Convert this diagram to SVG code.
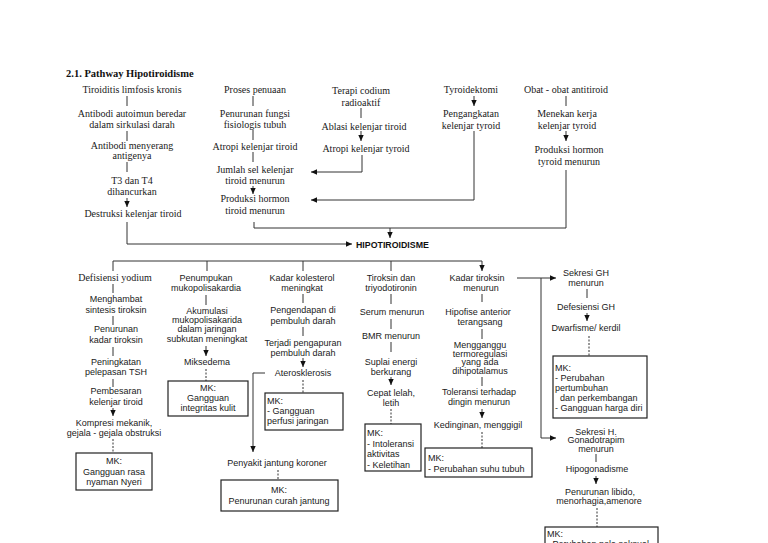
<svg xmlns="http://www.w3.org/2000/svg" width="768" height="543" viewBox="0 0 768 543">
<defs>
<marker id="a" viewBox="0 0 10 10" refX="10" refY="5" markerWidth="6" markerHeight="6" markerUnits="userSpaceOnUse" orient="auto"><path d="M0,0.5 L10,5 L0,9.5z" fill="#111"/></marker>
<style>
.s{font-family:"Liberation Serif","Times New Roman",serif;font-size:10px;fill:#1a1a1a;text-anchor:middle}
.n{font-family:"Liberation Sans",Arial,sans-serif;font-size:9px;fill:#1a1a1a;text-anchor:middle}
.l{text-anchor:start}
.t{font-family:"Liberation Serif","Times New Roman",serif;font-size:10.5px;font-weight:bold;fill:#111}
.h{font-family:"Liberation Sans",Arial,sans-serif;font-size:8.8px;font-weight:bold;fill:#111}
.c{stroke:#333;stroke-width:1;fill:none}
.ar{marker-end:url(#a)}
.d{stroke:#333;stroke-width:1;stroke-dasharray:2 1.5;fill:none}
.box{fill:#fff;stroke:#222;stroke-width:1.2}
</style>
</defs>
<rect width="768" height="543" fill="#fff"/>
<text class="t" x="66" y="77">2.1. Pathway Hipotiroidisme</text>

<g id="connectors">
<path class="c ar" d="M127,96V106M127,131V141M127,162V172M127,198V207"/>
<path class="c ar" d="M253,96V106M253,130V140M253,152V162M253,186V194"/>
<path class="c ar" d="M361,108V118M361,131V141"/>
<path class="c ar" d="M362,155V172H311"/>
<path class="c ar" d="M474,96V106"/>
<path class="c ar" d="M474,131V200H311"/>
<path class="c ar" d="M566,96V106M566,131V141"/>
<path class="c" d="M254,222V228H566V170"/>
<path class="c ar" d="M390,228V238"/>
<path class="c ar" d="M127,222V244H352"/>
<path class="c" d="M113,261H482"/>
<path class="c ar" d="M113,261V271M207,261V271M303,261V271M391,261V271M482,261V271"/>
<path class="c ar" d="M113,284V293M113,316V325M113,347V356M113,379V387M113,408V416"/>
<path class="d" d="M113,439V453"/>
<path class="c ar" d="M206,295V305M206,346V356"/>
<path class="d" d="M206,369V381"/>
<path class="c ar" d="M303,294V303M303,327V336M303,358V367"/>
<path class="d" d="M303,380V393"/>
<path class="c ar" d="M265,373H253V452"/>
<path class="d" d="M278,470V480"/>
<path class="c ar" d="M391,294V304M391,319V329M391,342V352M391,377V385"/>
<path class="d" d="M391,409V424"/>
<path class="c ar" d="M482,294V302M482,329V339M482,377V386M482,409V418"/>
<path class="d" d="M482,432V448"/>
<path class="c ar" d="M517,278H556"/>
<path class="c ar" d="M541,278V438H556"/>
<path class="c ar" d="M587,289V298M587,313V321"/>
<path class="d" d="M589,336V356"/>
<path class="c ar" d="M596,454V462M596,476V484"/>
<path class="d" d="M597,508V527"/>
</g>

<g id="top1">
<text class="s" x="132" y="92.5">Tiroiditis limfosis kronis</text>
<text class="s" x="132" y="116.5">Antibodi autoimun beredar</text>
<text class="s" x="132" y="127.5">dalam sirkulasi darah</text>
<text class="s" x="132" y="148.5">Antibodi menyerang</text>
<text class="s" x="132" y="159">antigenya</text>
<text class="s" x="132" y="183.5">T3 dan T4</text>
<text class="s" x="132" y="194.5">dihancurkan</text>
<text class="s" x="133" y="216.5">Destruksi kelenjar tiroid</text>
</g>
<g id="top2">
<text class="s" x="255" y="92.5">Proses penuaan</text>
<text class="s" x="255" y="116.5">Penurunan fungsi</text>
<text class="s" x="255" y="127.5">fisiologis tubuh</text>
<text class="s" x="255" y="149.5">Atropi kelenjar tiroid</text>
<text class="s" x="255" y="172.5">Jumlah sel kelenjar</text>
<text class="s" x="255" y="183.5">tiroid menurun</text>
<text class="s" x="255" y="201.5">Produksi hormon</text>
<text class="s" x="255" y="213.5">tiroid menurun</text>
</g>
<g id="top3">
<text class="s" x="361" y="93.5">Terapi codium</text>
<text class="s" x="361" y="105.5">radioaktif</text>
<text class="s" x="364" y="129.5">Ablasi kelenjar tiroid</text>
<text class="s" x="366" y="151.5">Atropi kelenjar tyroid</text>
</g>
<g id="top4">
<text class="s" x="471" y="92.5">Tyroidektomi</text>
<text class="s" x="471" y="116.5">Pengangkatan</text>
<text class="s" x="471" y="128.5">kelenjar tyroid</text>
</g>
<g id="top5">
<text class="s" x="566" y="92.5">Obat - obat antitiroid</text>
<text class="s" x="567" y="116.5">Menekan kerja</text>
<text class="s" x="567" y="128.5">kelenjar tyroid</text>
<text class="s" x="569" y="152.5">Produksi hormon</text>
<text class="s" x="569" y="164.5">tyroid menurun</text>
</g>
<g id="hipotiroidisme">
<text class="h" x="356" y="248">HIPOTIROIDISME</text>
</g>

<g id="colA">
<text class="s" x="115" y="280.5">Defisiensi yodium</text>
<text class="n" x="116" y="302">Menghambat</text>
<text class="n" x="116" y="313">sintesis tiroksin</text>
<text class="n" x="116" y="332">Penurunan</text>
<text class="n" x="116" y="343">kadar tiroksin</text>
<text class="n" x="116" y="365">Peningkatan</text>
<text class="n" x="116" y="375">pelepasan TSH</text>
<text class="n" x="116" y="394">Pembesaran</text>
<text class="n" x="116" y="405">kelenjar tiroid</text>
<text class="n" x="114" y="426">Kompresi mekanik,</text>
<text class="n" x="114" y="436">gejala - gejala obstruksi</text>
</g>
<g id="mkA">
<rect class="box" x="76" y="453" width="76" height="37"/>
<text class="n" x="114" y="463.5">MK:</text>
<text class="n" x="114" y="474.5">Gangguan rasa</text>
<text class="n" x="114" y="484.5">nyaman Nyeri</text>
</g>

<g id="colB">
<text class="n" x="206" y="281">Penumpukan</text>
<text class="n" x="206" y="291">mukopolisakardia</text>
<text class="n" x="207" y="314">Akumulasi</text>
<text class="n" x="207" y="323">mukopolisakarida</text>
<text class="n" x="207" y="332">dalam jaringan</text>
<text class="n" x="207" y="342">subkutan meningkat</text>
<text class="n" x="207" y="365">Miksedema</text>
</g>
<g id="mkB">
<rect class="box" x="168" y="381" width="80" height="35"/>
<text class="n" x="208" y="391">MK:</text>
<text class="n" x="208" y="400.5">Gangguan</text>
<text class="n" x="208" y="410.5">integritas kulit</text>
</g>

<g id="colC">
<text class="n" x="302" y="280.5">Kadar kolesterol</text>
<text class="n" x="302" y="291">meningkat</text>
<text class="n" x="303" y="313">Pengendapan di</text>
<text class="n" x="303" y="324">pembuluh darah</text>
<text class="n" x="303" y="346">Terjadi pengapuran</text>
<text class="n" x="303" y="356">pembuluh darah</text>
<text class="n" x="303" y="376">Aterosklerosis</text>
</g>
<g id="mkC">
<rect class="box" x="265" y="393" width="78" height="37"/>
<text class="n l" x="267" y="404">MK:</text>
<text class="n l" x="267" y="414">- Gangguan</text>
<text class="n l" x="267" y="424">perfusi jaringan</text>
</g>
<g id="pjk">
<text class="n" x="277" y="466">Penyakit jantung koroner</text>
</g>
<g id="mkPJK">
<rect class="box" x="221" y="480" width="117" height="31"/>
<text class="n" x="279" y="492.5">MK:</text>
<text class="n" x="279" y="503.5">Penurunan curah jantung</text>
</g>

<g id="colD">
<text class="n" x="391" y="281">Tiroksin dan</text>
<text class="n" x="391" y="291">triyodotironin</text>
<text class="n" x="392" y="315">Serum menurun</text>
<text class="n" x="391" y="339">BMR menurun</text>
<text class="n" x="391" y="365">Suplai energi</text>
<text class="n" x="391" y="375">berkurang</text>
<text class="n" x="391" y="396">Cepat lelah,</text>
<text class="n" x="391" y="406">letih</text>
</g>
<g id="mkD">
<rect class="box" x="365" y="424" width="56" height="47"/>
<text class="n l" x="367" y="436">MK:</text>
<text class="n l" x="367" y="447">- Intoleransi</text>
<text class="n l" x="367" y="457">aktivitas</text>
<text class="n l" x="367" y="467.5">- Keletihan</text>
</g>

<g id="colE">
<text class="n" x="477" y="280.5">Kadar tiroksin</text>
<text class="n" x="481" y="291">menurun</text>
<text class="n" x="478" y="315">Hipofise anterior</text>
<text class="n" x="480" y="325">terangsang</text>
<text class="n" x="480" y="347.5">Mengganggu</text>
<text class="n" x="480" y="356.5">termoregulasi</text>
<text class="n" x="480" y="365">yang ada</text>
<text class="n" x="480" y="374">dihipotalamus</text>
<text class="n" x="479" y="395">Toleransi terhadap</text>
<text class="n" x="479" y="405">dingin menurun</text>
<text class="n" x="478" y="428">Kedinginan, menggigil</text>
</g>
<g id="mkE">
<rect class="box" x="425" y="448" width="107" height="29"/>
<text class="n l" x="428" y="461">MK:</text>
<text class="n l" x="428" y="472">- Perubahan suhu tubuh</text>
</g>

<g id="colF">
<text class="n" x="586" y="276">Sekresi GH</text>
<text class="n" x="586" y="286">menurun</text>
<text class="n" x="586" y="310">Defesiensi GH</text>
<text class="n" x="586" y="331">Dwarfisme/ kerdil</text>
</g>
<g id="mkF">
<rect class="box" x="553" y="356" width="94" height="62"/>
<text class="n l" x="555" y="371">MK:</text>
<text class="n l" x="555" y="381">- Perubahan</text>
<text class="n l" x="555" y="391">pertumbuhan</text>
<text class="n l" x="560" y="401">dan perkembangan</text>
<text class="n l" x="555" y="411">- Gangguan harga diri</text>
</g>

<g id="colG">
<text class="n" x="596" y="434.5">Sekresi H.</text>
<text class="n" x="596" y="443">Gonadotrapim</text>
<text class="n" x="596" y="451.5">menurun</text>
<text class="n" x="597" y="472">Hipogonadisme</text>
<text class="n" x="600" y="495">Penurunan libido,</text>
<text class="n" x="599" y="504">menorhagia,amenore</text>
</g>
<g id="mkG">
<rect class="box" x="545" y="527" width="113" height="30"/>
<text class="n l" x="547" y="537">MK:</text>
<text class="n l" x="547" y="547">- Perubahan pola seksual</text>
</g>
</svg>
